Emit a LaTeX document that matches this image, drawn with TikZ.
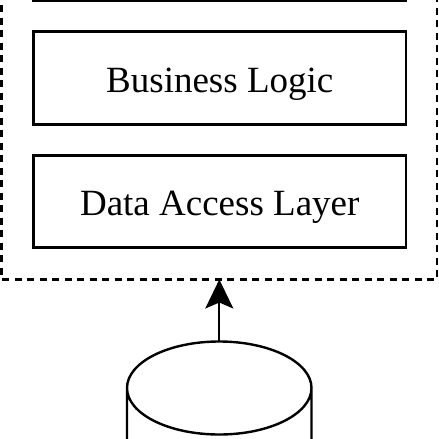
\documentclass[tikz,border=0pt]{standalone}
\usepackage{fontspec}
\setmainfont{Liberation Serif}
\usetikzlibrary{arrows.meta,calc}
\begin{document}
\begin{tikzpicture}[x=1pt,y=-1pt,
  layerbox/.style={draw, line width=2.6pt, minimum width=372.5pt, minimum height=92.5pt, inner sep=0pt,
    text height=28.4pt, text depth=0pt, font=\fontsize{37}{42}\selectfont},
  container/.style={draw, line width=2.7pt, dash pattern=on 7pt off 5.5pt},
  dbline/.style={line width=2.4pt},
  conn/.style={line width=2.2pt, -{Stealth[length=29pt,width=28pt,inset=6pt]}}]
\useasboundingbox (0,0) rectangle (439,439);
\clip (0,0) rectangle (439,439);
\fill[white] (0,0) rectangle (439,439);
% layer boxes
\node[layerbox] (top) at (219.75,-46) {};
\node[layerbox] (bl) at (219.75,78) {Business Logic};
\node[layerbox] (dal) at (219.75,201.5) {Data Access Layer};
% database cylinder
\coordinate (db) at (219.3,341.5);
\draw[dbline, fill=white] (127,470) -- (127,388) arc[start angle=180, end angle=0, x radius=92.25, y radius=46.5] -- (311.5,470);
\draw[dbline] (127,388) arc[start angle=180, end angle=360, x radius=92.25, y radius=46.5];
% outer dashed container (cut by the frame)
\coordinate (contS) at ($(db)+(0,-62)$);
\coordinate (contSW) at (contS -| 1.5,0);
\coordinate (contSE) at (contS -| 437,0);
\draw[container] (1.5,-120) -- (contSW) -- (contSE) -- (437,-120);
% connector
\draw[conn] (db) -- (contS);
\end{tikzpicture}
\end{document}
